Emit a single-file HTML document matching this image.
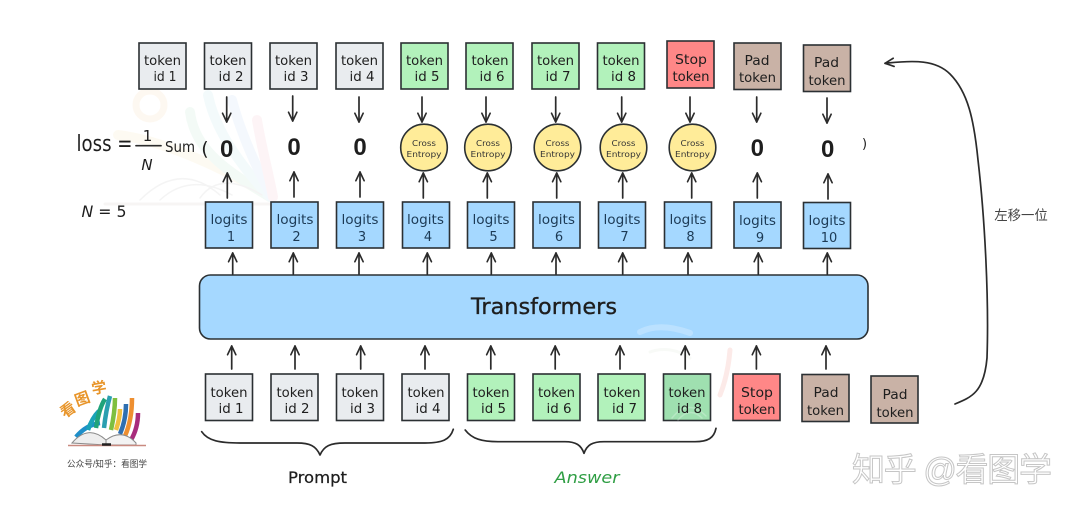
<!DOCTYPE html>
<html><head><meta charset="utf-8"><style>
html,body{margin:0;padding:0;background:#fff}
svg{display:block}
text{font-family:"DejaVu Sans","Liberation Sans",sans-serif;fill:#1e1e1e;text-anchor:middle}
.t{font-size:13px}
.c{font-size:8px;fill:#333}
.z{font-size:24px;font-weight:bold;font-family:"Liberation Sans",sans-serif}
.cj{font-family:"Liberation Sans","Noto Sans CJK SC",sans-serif}
.g rect{fill:#e9ecef}
rect{stroke:#2b3033;stroke-width:1.6}
.gr rect{fill:#b2f2bb}.r rect{fill:#ff8787}.p rect{fill:#c9b2a6}.b rect{fill:#a5d8ff}
circle{fill:#ffec99;stroke:#2b3033;stroke-width:1.6}
.a path{fill:none;stroke:#2b2b2b;stroke-width:1.7;stroke-linecap:round;stroke-linejoin:round}
.l path{fill:none;stroke-linecap:butt;stroke-width:4.500}
.w path{fill:none;stroke-linecap:round}
</style></head><body>
<svg width="1080" height="512" viewBox="0 0 1080 512" xmlns="http://www.w3.org/2000/svg">
<defs>
<marker id="ah" viewBox="0 0 12 12" refX="11" refY="6" markerWidth="11" markerHeight="11" markerUnits="userSpaceOnUse" orient="auto">
<path d="M1.500 1.500L11 6L1.500 10.500" fill="none" stroke="#2b2b2b" stroke-width="1.8" stroke-linecap="round" stroke-linejoin="round"/>
</marker>
</defs>

<!-- faint background watermark, upper left -->
<g class="w" opacity=".1">
<path d="M270 197C220 165 160 140 118 135" stroke="#f5d98a" stroke-width="10"/>
<path d="M270 197C225 170 195 150 190 112" stroke="#8fd9b0" stroke-width="10"/>
<path d="M270 197C240 165 215 130 208 95" stroke="#8fd9e0" stroke-width="10"/>
<path d="M272 197C255 165 240 130 232 100" stroke="#9ac0f0" stroke-width="10"/>
<path d="M273 197C268 170 262 150 257 120" stroke="#f0a0b0" stroke-width="10"/>
<path d="M150 105m-14 0a14 14 0 1 0 28 0a14 14 0 1 0 -28 0" stroke="#f5c080" stroke-width="7"/>
<path d="M105 204H280" stroke="#b8a898" stroke-width="3"/>
<path d="M140 200Q180 160 220 195" stroke="#999" stroke-width="1.500"/>
<path d="M160 200Q190 172 232 195" stroke="#999" stroke-width="1.500"/>
<path d="M200 198Q220 170 262 195" stroke="#999" stroke-width="1.500"/>
</g>

<g class="g">
<rect x="139" y="43" width="47" height="46"/><rect x="204.500" y="43" width="47" height="46"/><rect x="270" y="43" width="47" height="46"/><rect x="336" y="43" width="47" height="46"/>
<rect x="205.500" y="374" width="47" height="46.500"/><rect x="271" y="374" width="47" height="46.500"/><rect x="336.500" y="374" width="47" height="46.500"/><rect x="402" y="374" width="47" height="46.500"/>
</g>
<g class="gr">
<rect x="401" y="43" width="47" height="46"/><rect x="466" y="43" width="47" height="46"/><rect x="532" y="43" width="47" height="46"/><rect x="597.500" y="43" width="47" height="46"/>
<rect x="467.500" y="374" width="47" height="46.500"/><rect x="533" y="374" width="47" height="46.500"/><rect x="598" y="374" width="47" height="46.500"/><rect x="663.500" y="374" width="47" height="46.500" style="fill:#9fe0b0"/>
</g>
<g class="r"><rect x="667" y="41" width="47" height="47"/><rect x="733" y="374" width="47" height="46.500"/></g>
<g class="p"><rect x="734" y="43" width="47" height="46.500"/><rect x="803.500" y="45" width="47" height="46.500"/><rect x="802" y="374.500" width="47" height="47"/><rect x="871" y="376" width="47" height="47"/></g>
<g class="b">
<rect x="205.500" y="202" width="47" height="46"/><rect x="271" y="202" width="47" height="46"/><rect x="336.500" y="202" width="47" height="46"/><rect x="402.500" y="202" width="47" height="46"/>
<rect x="467.500" y="202" width="47" height="46"/><rect x="533" y="202" width="47" height="46"/><rect x="598.500" y="202" width="47" height="46"/><rect x="664.500" y="202" width="47" height="46"/>
<rect x="734" y="202" width="47" height="46"/><rect x="803.500" y="202.500" width="47" height="46"/>
<rect x="199.500" y="275" width="668.500" height="64" rx="11"/>
</g>
<circle cx="424" cy="147.500" r="23.300"/><circle cx="488" cy="147.500" r="23.300"/><circle cx="557.500" cy="147.500" r="23.300"/><circle cx="623.500" cy="147.500" r="23.300"/><circle cx="692.500" cy="147.500" r="23.300"/>

<!-- faint watermark over lower middle -->
<g class="w" opacity=".25">
<path d="M672 418Q688 398 706 416" stroke="#fff" stroke-width="1.500"/>
<path d="M678 420Q690 406 702 418" stroke="#fff" stroke-width="1.500"/>
<path d="M640 332Q660 322 690 333" stroke="#fff" stroke-width="6"/>
<path d="M720 395Q728 375 730 350" stroke="#f5b0a8" stroke-width="5"/>
<path d="M650 352Q670 345 690 358" stroke="#e4ece2" stroke-width="3"/>
</g>

<g class="a">
<!-- top down -->
<path marker-end="url(#ah)" d="M226.700 97V122"/><path marker-end="url(#ah)" d="M292.700 96V121"/><path marker-end="url(#ah)" d="M359 97V122"/><path marker-end="url(#ah)" d="M422 97V122"/><path marker-end="url(#ah)" d="M486 97V122"/><path marker-end="url(#ah)" d="M555.700 97V122"/><path marker-end="url(#ah)" d="M621.700 97V122"/><path marker-end="url(#ah)" d="M690 97V122"/><path marker-end="url(#ah)" d="M756.700 97V122"/><path marker-end="url(#ah)" d="M827 98V123"/>
<!-- logits up -->
<path marker-end="url(#ah)" d="M227.300 198V173"/><path marker-end="url(#ah)" d="M294 197V172"/><path marker-end="url(#ah)" d="M360 197V172"/><path marker-end="url(#ah)" d="M423.300 198V173"/><path marker-end="url(#ah)" d="M487.300 198V173"/><path marker-end="url(#ah)" d="M556.700 198V173"/><path marker-end="url(#ah)" d="M622.700 198V173"/><path marker-end="url(#ah)" d="M691.700 198V173"/><path marker-end="url(#ah)" d="M757.300 198V173"/><path marker-end="url(#ah)" d="M828 199V174"/>
<!-- transformers to logits -->
<path marker-end="url(#ah)" d="M232.700 274V253"/><path marker-end="url(#ah)" d="M293.300 274V253"/><path marker-end="url(#ah)" d="M359 274V253"/><path marker-end="url(#ah)" d="M427.300 274V253"/><path marker-end="url(#ah)" d="M491.300 274V253"/><path marker-end="url(#ah)" d="M556 274V253"/><path marker-end="url(#ah)" d="M622.700 274V253"/><path marker-end="url(#ah)" d="M688 274V253"/><path marker-end="url(#ah)" d="M758.300 274V253"/><path marker-end="url(#ah)" d="M827.300 274V253"/>
<!-- bottom up -->
<path marker-end="url(#ah)" d="M231.700 369V346"/><path marker-end="url(#ah)" d="M295 369V346"/><path marker-end="url(#ah)" d="M360.700 369V346"/><path marker-end="url(#ah)" d="M425 369V346"/><path marker-end="url(#ah)" d="M490.800 369V346"/><path marker-end="url(#ah)" d="M555.200 369V346"/><path marker-end="url(#ah)" d="M620 369V346"/><path marker-end="url(#ah)" d="M685.200 369V346"/><path marker-end="url(#ah)" d="M756.400 369V346"/><path marker-end="url(#ah)" d="M826 369V346"/>
<!-- braces -->
<path d="M201.700 431.700C208 441 220 443 240 443L297 443C310 443 316 446 320 455C324 446 330 443 345 443L425 443C442 443 450 440 453.300 429.300"/>
<path d="M465.200 430C472 439 482 441.700 498 441.700L565 441.700C576 441.700 581 445 584 453.300C587 445 592 441.700 604 441.700L695 441.700C708 441.700 714 438 716 428.300"/>
<!-- big arrow -->
<path marker-end="url(#ah)" d="M955 404C972 397 984 392 987 358C989 300 985 220 978 160C974 120 968 92 950 74C936 60 915 60 885 63.300"/>
<path d="M136 145.700H161"/>
</g>

<g>
<text class="t" x="162.500" y="65" textLength="37" lengthAdjust="spacingAndGlyphs">token</text><text class="t" x="165" y="81" textLength="23" lengthAdjust="spacingAndGlyphs">id 1</text>
<text class="t" x="228" y="65" textLength="37" lengthAdjust="spacingAndGlyphs">token</text><text class="t" x="231" y="81" textLength="25" lengthAdjust="spacingAndGlyphs">id 2</text>
<text class="t" x="293.500" y="65" textLength="37" lengthAdjust="spacingAndGlyphs">token</text><text class="t" x="296" y="81" textLength="25" lengthAdjust="spacingAndGlyphs">id 3</text>
<text class="t" x="359.500" y="65" textLength="37" lengthAdjust="spacingAndGlyphs">token</text><text class="t" x="362" y="81" textLength="25" lengthAdjust="spacingAndGlyphs">id 4</text>
<text class="t" x="424.500" y="65" textLength="37" lengthAdjust="spacingAndGlyphs">token</text><text class="t" x="427" y="81" textLength="25" lengthAdjust="spacingAndGlyphs">id 5</text>
<text class="t" x="490" y="65" textLength="37" lengthAdjust="spacingAndGlyphs">token</text><text class="t" x="492" y="81" textLength="25" lengthAdjust="spacingAndGlyphs">id 6</text>
<text class="t" x="555.500" y="65" textLength="37" lengthAdjust="spacingAndGlyphs">token</text><text class="t" x="558" y="81" textLength="25" lengthAdjust="spacingAndGlyphs">id 7</text>
<text class="t" x="621" y="65" textLength="37" lengthAdjust="spacingAndGlyphs">token</text><text class="t" x="623.500" y="81" textLength="25" lengthAdjust="spacingAndGlyphs">id 8</text>
<text class="t" x="691" y="64" textLength="32" lengthAdjust="spacingAndGlyphs">Stop</text><text class="t" x="691" y="81" textLength="37" lengthAdjust="spacingAndGlyphs">token</text>
<text class="t" x="757" y="65" textLength="25" lengthAdjust="spacingAndGlyphs">Pad</text><text class="t" x="757.500" y="82" textLength="37" lengthAdjust="spacingAndGlyphs">token</text>
<text class="t" x="826.500" y="67" textLength="25" lengthAdjust="spacingAndGlyphs">Pad</text><text class="t" x="827" y="85" textLength="37" lengthAdjust="spacingAndGlyphs">token</text>

<text class="t" x="229" y="224" textLength="37" lengthAdjust="spacingAndGlyphs" style="fill:#1c3a55">logits</text><text class="t" x="231" y="241" style="fill:#1c3a55">1</text>
<text class="t" x="295" y="224" textLength="37" lengthAdjust="spacingAndGlyphs" style="fill:#1c3a55">logits</text><text class="t" x="296.500" y="241" style="fill:#1c3a55">2</text>
<text class="t" x="360" y="224" textLength="37" lengthAdjust="spacingAndGlyphs" style="fill:#1c3a55">logits</text><text class="t" x="362" y="241" style="fill:#1c3a55">3</text>
<text class="t" x="425.500" y="224" textLength="37" lengthAdjust="spacingAndGlyphs" style="fill:#1c3a55">logits</text><text class="t" x="428" y="241" style="fill:#1c3a55">4</text>
<text class="t" x="491" y="224" textLength="37" lengthAdjust="spacingAndGlyphs" style="fill:#1c3a55">logits</text><text class="t" x="493.500" y="241" style="fill:#1c3a55">5</text>
<text class="t" x="556.500" y="224" textLength="37" lengthAdjust="spacingAndGlyphs" style="fill:#1c3a55">logits</text><text class="t" x="559" y="241" style="fill:#1c3a55">6</text>
<text class="t" x="622" y="224" textLength="37" lengthAdjust="spacingAndGlyphs" style="fill:#1c3a55">logits</text><text class="t" x="624.500" y="241" style="fill:#1c3a55">7</text>
<text class="t" x="688" y="224" textLength="37" lengthAdjust="spacingAndGlyphs" style="fill:#1c3a55">logits</text><text class="t" x="690.500" y="241" style="fill:#1c3a55">8</text>
<text class="t" x="757.500" y="225" textLength="37" lengthAdjust="spacingAndGlyphs" style="fill:#1c3a55">logits</text><text class="t" x="760" y="242" style="fill:#1c3a55">9</text>
<text class="t" x="827" y="225" textLength="37" lengthAdjust="spacingAndGlyphs" style="fill:#1c3a55">logits</text><text class="t" x="829" y="242" style="fill:#1c3a55">10</text>

<text class="t" x="229" y="397" textLength="37" lengthAdjust="spacingAndGlyphs">token</text><text class="t" x="231" y="413" textLength="25" lengthAdjust="spacingAndGlyphs">id 1</text>
<text class="t" x="295" y="397" textLength="37" lengthAdjust="spacingAndGlyphs">token</text><text class="t" x="297" y="413" textLength="25" lengthAdjust="spacingAndGlyphs">id 2</text>
<text class="t" x="360" y="397" textLength="37" lengthAdjust="spacingAndGlyphs">token</text><text class="t" x="362.500" y="413" textLength="25" lengthAdjust="spacingAndGlyphs">id 3</text>
<text class="t" x="426" y="397" textLength="37" lengthAdjust="spacingAndGlyphs">token</text><text class="t" x="428" y="413" textLength="25" lengthAdjust="spacingAndGlyphs">id 4</text>
<text class="t" x="491" y="397" textLength="37" lengthAdjust="spacingAndGlyphs">token</text><text class="t" x="493.500" y="413" textLength="25" lengthAdjust="spacingAndGlyphs">id 5</text>
<text class="t" x="556.500" y="397" textLength="37" lengthAdjust="spacingAndGlyphs">token</text><text class="t" x="559" y="413" textLength="25" lengthAdjust="spacingAndGlyphs">id 6</text>
<text class="t" x="622" y="397" textLength="37" lengthAdjust="spacingAndGlyphs">token</text><text class="t" x="624.500" y="413" textLength="25" lengthAdjust="spacingAndGlyphs">id 7</text>
<text class="t" x="687" y="397" textLength="37" lengthAdjust="spacingAndGlyphs">token</text><text class="t" x="689.500" y="413" textLength="25" lengthAdjust="spacingAndGlyphs">id 8</text>
<text class="t" x="757" y="397" textLength="32" lengthAdjust="spacingAndGlyphs">Stop</text><text class="t" x="757" y="414" textLength="37" lengthAdjust="spacingAndGlyphs">token</text>
<text class="t" x="826" y="397" textLength="25" lengthAdjust="spacingAndGlyphs">Pad</text><text class="t" x="825.500" y="415" textLength="37" lengthAdjust="spacingAndGlyphs">token</text>
<text class="t" x="895" y="399" textLength="25" lengthAdjust="spacingAndGlyphs">Pad</text><text class="t" x="895" y="417" textLength="37" lengthAdjust="spacingAndGlyphs">token</text>

<text class="c" x="424" y="146" textLength="24" lengthAdjust="spacingAndGlyphs">Cross</text><text class="c" x="424" y="157" textLength="35" lengthAdjust="spacingAndGlyphs">Entropy</text>
<text class="c" x="488" y="146" textLength="24" lengthAdjust="spacingAndGlyphs">Cross</text><text class="c" x="488" y="157" textLength="35" lengthAdjust="spacingAndGlyphs">Entropy</text>
<text class="c" x="557.500" y="146" textLength="24" lengthAdjust="spacingAndGlyphs">Cross</text><text class="c" x="557.500" y="157" textLength="35" lengthAdjust="spacingAndGlyphs">Entropy</text>
<text class="c" x="623.500" y="146" textLength="24" lengthAdjust="spacingAndGlyphs">Cross</text><text class="c" x="623.500" y="157" textLength="35" lengthAdjust="spacingAndGlyphs">Entropy</text>
<text class="c" x="692.500" y="146" textLength="24" lengthAdjust="spacingAndGlyphs">Cross</text><text class="c" x="692.500" y="157" textLength="35" lengthAdjust="spacingAndGlyphs">Entropy</text>

<text class="z" x="226.700" y="157">0</text><text class="z" x="294" y="155">0</text><text class="z" x="360" y="155">0</text><text class="z" x="757.300" y="156">0</text><text class="z" x="827.700" y="157">0</text>

<text x="544" y="314" style="font-size:22px;stroke:#1e1e1e;stroke-width:.35" textLength="146" lengthAdjust="spacingAndGlyphs">Transformers</text>

<text x="104.500" y="151" style="font-size:22px" textLength="56" lengthAdjust="spacingAndGlyphs">loss =</text>
<text x="147.500" y="141" style="font-size:15px">1</text>
<text x="147" y="170" style="font-size:15px;font-style:italic">N</text>
<text x="180" y="152" style="font-size:15px" textLength="30" lengthAdjust="spacingAndGlyphs">Sum</text>
<text x="205" y="155" style="font-size:19px">(</text>
<text x="864.500" y="148" style="font-size:13px">)</text>
<text x="104" y="217" style="font-size:16px" textLength="45" lengthAdjust="spacingAndGlyphs"><tspan style="font-style:italic">N</tspan> = 5</text>

<text x="317.500" y="483" style="font-size:16px;stroke:#1e1e1e;stroke-width:.25" textLength="59" lengthAdjust="spacingAndGlyphs">Prompt</text>
<text x="587" y="483" style="font-size:16px;fill:#2f9e44;font-style:italic" textLength="65" lengthAdjust="spacingAndGlyphs">Answer</text>
<text class="cj" x="1021" y="220" style="font-size:13.400px;fill:#444">左移一位</text>
</g>

<!-- logo -->
<g class="l">
<path d="M76 437Q86 425 100 423" stroke="#1f8fc9"/>
<path d="M88 430Q92 418 99 411" stroke="#1aa3b8"/>
<path d="M96 428Q99 408 105 399" stroke="#1fa37a"/>
<path d="M104 428Q106 410 110 396" stroke="#2a9fb0"/>
<path d="M111 430Q115 412 115 398" stroke="#7fbf3f"/>
<path d="M116 430Q120 418 120 409" stroke="#f0c040"/>
<path d="M120 434Q126 420 126 404" stroke="#2e6fb0"/>
<path d="M125 436Q132 420 132 398" stroke="#ee8f30"/>
<path d="M131 440Q138 428 138 413" stroke="#a82c7c"/>
<path d="M72 443Q88 424 106 440V445Z" style="fill:#eee;stroke:#8a8a8a;stroke-width:1"/>
<path d="M106 440Q122 428 136 443V445H106Z" style="fill:#f3f3f3;stroke:#8a8a8a;stroke-width:1"/>
<path d="M68 445.500H146" stroke="#c98a80" style="stroke-width:1.500"/>
<path d="M102 444.500H111" stroke="#222" style="stroke-width:2.500"/>
</g>
<text class="cj" x="68" y="415" style="font-size:15px;font-weight:bold;fill:#e8952a" transform="rotate(-35 68 410)">看</text>
<text class="cj" x="82" y="404" style="font-size:15px;font-weight:bold;fill:#e8952a" transform="rotate(-20 82 398)">图</text>
<text class="cj" x="99" y="393" style="font-size:15px;font-weight:bold;fill:#e8952a" transform="rotate(-10 99 388)">学</text>
<text class="cj" x="107" y="467" style="font-size:8.900px;fill:#444" textLength="80" lengthAdjust="spacingAndGlyphs">公众号/知乎：看图学</text>

<text class="cj" x="952" y="481" style="font-size:33px;fill:#fff;stroke:#c6c6c6;stroke-width:1;text-anchor:middle" textLength="200">知乎 @看图学</text>
</svg>
</body></html>
